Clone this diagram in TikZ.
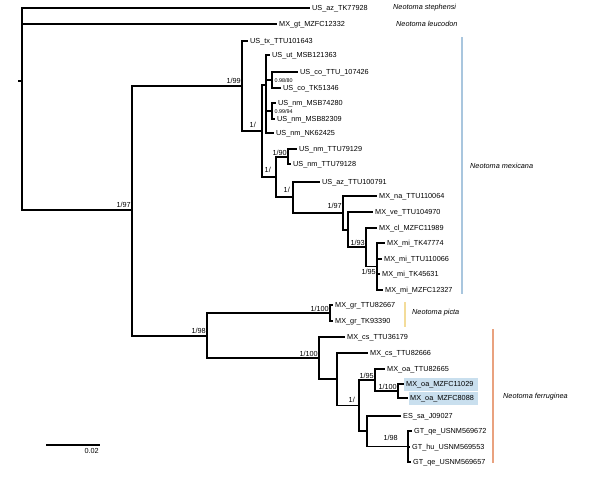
\documentclass[tikz,border=0pt]{standalone}
\usepackage{fontspec}
\setmainfont{Liberation Sans}
\definecolor{mexc}{HTML}{A9C6DE}
\definecolor{picc}{HTML}{F3DC9A}
\definecolor{ferc}{HTML}{E9A27F}
\definecolor{hlc}{HTML}{C9DFEE}
\tikzset{
  br/.style={line width=1.4pt},
  tip/.style={anchor=west, inner xsep=2pt, inner ysep=0pt, text height=5.2pt, text depth=0pt, font=\fontsize{7.3}{8}\selectfont},
  supp/.style={inner sep=0pt, text height=5.2pt, text depth=0pt, font=\fontsize{7.3}{8}\selectfont},
  suppsmall/.style={inner sep=0pt, text height=4pt, text depth=0pt, font=\fontsize{5.4}{6}\selectfont},
  spname/.style={anchor=west, inner sep=0pt, font=\fontsize{7.3}{8}\selectfont\itshape},
  spbar/.style={line width=1.5pt},
}
\begin{document}
\begin{tikzpicture}[x=1pt,y=-1pt]
\useasboundingbox (0,0) rectangle (589,477);
% highlight boxes
\fill[hlc] (404,378) rectangle (478,391);
\fill[hlc] (409,392) rectangle (478,405);
% internal nodes
\coordinate (rs) at (18,81);
\coordinate (root) at (22,81);
\coordinate (B) at (132,210);
\coordinate (N1) at (242,86);
\coordinate (N2) at (262,131);
\coordinate (P) at (266,85);
\coordinate (CO) at (272,80);
\coordinate (NM) at (272,111);
\coordinate (Q) at (276,177);
\coordinate (N190) at (288,157);
\coordinate (R) at (293,197);
\coordinate (S) at (343,213);
\coordinate (T) at (348,230);
\coordinate (U) at (366,247);
\coordinate (M) at (377,266.5);
\coordinate (L) at (207,336);
\coordinate (PI) at (330,313);
\coordinate (F) at (319,358);
\coordinate (G) at (337,379);
\coordinate (H) at (359,405.5);
\coordinate (I) at (375,380);
\coordinate (K) at (398,391);
\coordinate (J) at (367,431);
\coordinate (GT) at (408,446.5);
% tips
\node[tip] (t01) at (310,8) {US\_az\_TK77928};
\node[tip] (t02) at (277,24) {MX\_gt\_MZFC12332};
\node[tip] (t03) at (248,41) {US\_tx\_TTU101643};
\node[tip] (t04) at (270,55) {US\_ut\_MSB121363};
\node[tip] (t05) at (298,72) {US\_co\_TTU\_107426};
\node[tip] (t06) at (281,88) {US\_co\_TK51346};
\node[tip] (t07) at (276,103) {US\_nm\_MSB74280};
\node[tip] (t08) at (275,119) {US\_nm\_MSB82309};
\node[tip] (t09) at (274,133) {US\_nm\_NK62425};
\node[tip] (t10) at (297,149) {US\_nm\_TTU79129};
\node[tip] (t11) at (291,164) {US\_nm\_TTU79128};
\node[tip] (t12) at (320,182) {US\_az\_TTU100791};
\node[tip] (t13) at (377,196) {MX\_na\_TTU110064};
\node[tip] (t14) at (373,212) {MX\_ve\_TTU104970};
\node[tip] (t15) at (377,228) {MX\_cl\_MZFC11989};
\node[tip] (t16) at (385,243) {MX\_mi\_TK47774};
\node[tip] (t17) at (382,259) {MX\_mi\_TTU110066};
\node[tip] (t18) at (380,274) {MX\_mi\_TK45631};
\node[tip] (t19) at (383,290) {MX\_mi\_MZFC12327};
\node[tip] (t20) at (333,305) {MX\_gr\_TTU82667};
\node[tip] (t21) at (333,321) {MX\_gr\_TK93390};
\node[tip] (t22) at (345,337) {MX\_cs\_TTU36179};
\node[tip] (t23) at (368,353) {MX\_cs\_TTU82666};
\node[tip] (t24) at (385,369) {MX\_oa\_TTU82665};
\node[tip] (t25) at (404,384) {MX\_oa\_MZFC11029};
\node[tip] (t26) at (408,398) {MX\_oa\_MZFC8088};
\node[tip] (t27) at (401,416) {ES\_sa\_J09027};
\node[tip] (t28) at (412,431) {GT\_qe\_USNM569672};
\node[tip] (t29) at (410,447) {GT\_hu\_USNM569553};
\node[tip] (t30) at (411,462) {GT\_qe\_USNM569657};
% branches
\draw[br] (rs) -- (root);
\draw[br] (root) |- (t01.west);
\draw[br] (root) |- (t02.west);
\draw[br] (root) |- (B);
\draw[br] (B) |- (N1);
\draw[br] (B) |- (L);
\draw[br] (N1) |- (t03.west);
\draw[br] (N1) |- (N2);
\draw[br] (N2) |- (P);
\draw[br] (N2) |- (Q);
\draw[br] (P) |- (t04.west);
\draw[br] (P) |- (CO);
\draw[br] (P) |- (NM);
\draw[br] (P) |- (t09.west);
\draw[br] (CO) |- (t05.west);
\draw[br] (CO) |- (t06.west);
\draw[br] (NM) |- (t07.west);
\draw[br] (NM) |- (t08.west);
\draw[br] (Q) |- (N190);
\draw[br] (Q) |- (R);
\draw[br] (N190) |- (t10.west);
\draw[br] (N190) |- (t11.west);
\draw[br] (R) |- (t12.west);
\draw[br] (R) |- (S);
\draw[br] (S) |- (t13.west);
\draw[br] (S) |- (T);
\draw[br] (T) |- (t14.west);
\draw[br] (T) |- (U);
\draw[br] (U) |- (t15.west);
\draw[br] (U) |- (M);
\draw[br] (M) |- (t16.west);
\draw[br] (M) |- (t17.west);
\draw[br] (M) |- (t18.west);
\draw[br] (M) |- (t19.west);
\draw[br] (L) |- (PI);
\draw[br] (L) |- (F);
\draw[br] (PI) |- (t20.west);
\draw[br] (PI) |- (t21.west);
\draw[br] (F) |- (t22.west);
\draw[br] (F) |- (G);
\draw[br] (G) |- (t23.west);
\draw[br] (G) |- (H);
\draw[br] (H) |- (I);
\draw[br] (H) |- (J);
\draw[br] (I) |- (t24.west);
\draw[br] (I) |- (K);
\draw[br] (K) |- (t25.west);
\draw[br] (K) |- (t26.west);
\draw[br] (J) |- (t27.west);
\draw[br] (J) |- (GT);
\draw[br] (GT) |- (t28.west);
\draw[br] (GT) |- (t29.west);
\draw[br] (GT) |- (t30.west);
% support values
\node[supp, anchor=south east] (sB) at ([shift={(-1,-2)}]B) {1/97};
\node[supp, anchor=south east] (sN1) at ([shift={(-1,-2)}]N1) {1/99};
\node[supp, anchor=south east] (sN2) at ([shift={(-6,-3)}]N2) {1/};
\node[suppsmall, anchor=west] (sCO) at ([shift={(2.5,0)}]CO) {0.98/80};
\node[suppsmall, anchor=west] (sNM) at ([shift={(2.5,0)}]NM) {0.99/94};
\node[supp, anchor=south east] (sQ) at ([shift={(-5,-4)}]Q) {1/};
\node[supp, anchor=south east] (sN190) at ([shift={(-1,-1.5)}]N190) {1/90};
\node[supp, anchor=south east] (sR) at ([shift={(-3,-4)}]R) {1/};
\node[supp, anchor=south east] (sS) at ([shift={(-1,-4)}]S) {1/97};
\node[supp, anchor=south east] (sU) at ([shift={(-1,-1.5)}]U) {1/93};
\node[supp, anchor=north east] (sM) at ([shift={(-1,2.5)}]M) {1/95};
\node[supp, anchor=south east] (sL) at ([shift={(-1,-2)}]L) {1/98};
\node[supp, anchor=south east] (sPI) at ([shift={(-1,-1.5)}]PI) {1/100};
\node[supp, anchor=south east] (sF) at ([shift={(-1,-1.5)}]F) {1/100};
\node[supp, anchor=south east] (sH) at ([shift={(-4,-2.5)}]H) {1/};
\node[supp, anchor=south east] (sI) at ([shift={(-1,-1.5)}]I) {1/95};
\node[supp, anchor=south east] (sK) at ([shift={(-1,-1.5)}]K) {1/100};
\node[supp, anchor=south east] (sGT) at ([shift={(-10,-6)}]GT) {1/98};
% species
\node[spname] (n1) at (393,8) {Neotoma stephensi};
\node[spname] (n2) at (396,24) {Neotoma leucodon};
\coordinate (mx1) at (462,37);
\coordinate (mx2) at (462,294);
\draw[spbar, mexc] (mx1) -- (mx2);
\node[spname] (n3) at (470,166) {Neotoma mexicana};
\coordinate (pc1) at (405,302);
\coordinate (pc2) at (405,327);
\draw[spbar, picc] (pc1) -- (pc2);
\node[spname] (n4) at (412,313) {Neotoma picta};
\coordinate (fe1) at (493,329);
\coordinate (fe2) at (493,463);
\draw[spbar, ferc] (fe1) -- (fe2);
\node[spname] (n5) at (503,397) {Neotoma ferruginea};
% scale bar
\coordinate (sc1) at (46,445);
\coordinate (sc2) at (100,445);
\draw[br] (sc1) -- (sc2);
\node[supp, anchor=north east] (scl) at ([shift={(-1,3)}]sc2) {0.02};
\end{tikzpicture}
\end{document}
